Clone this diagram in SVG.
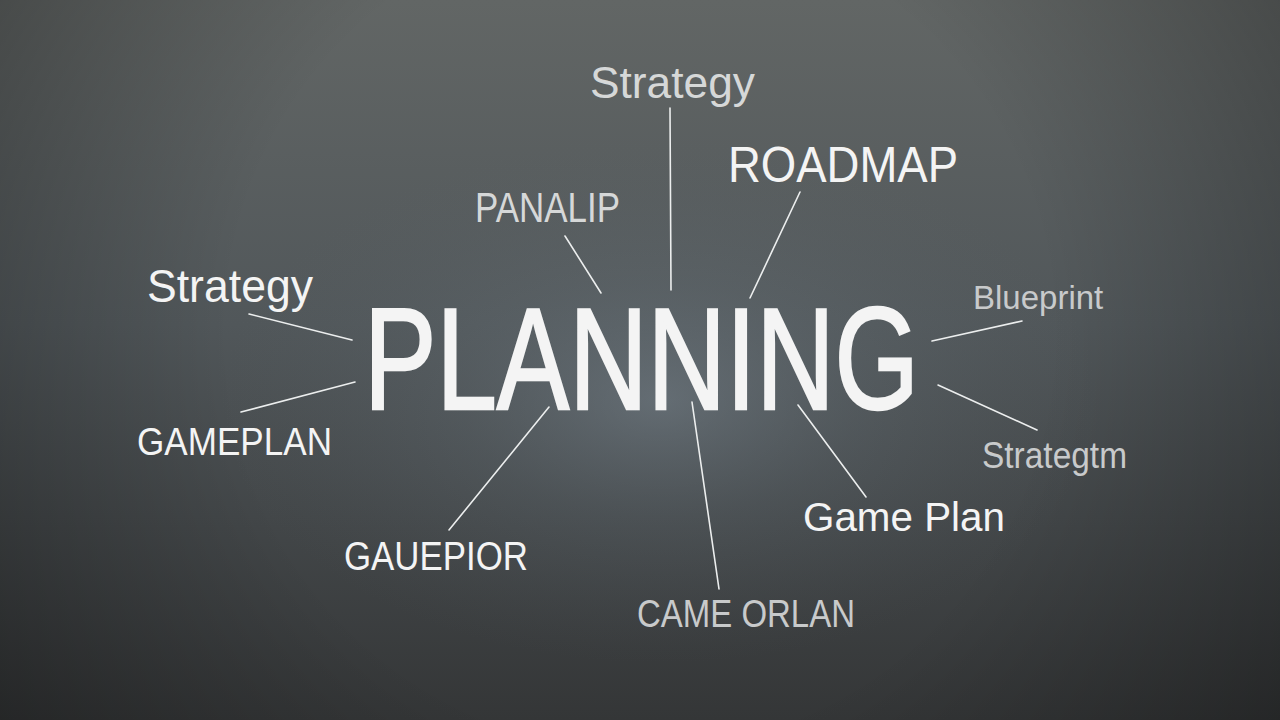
<svg xmlns="http://www.w3.org/2000/svg" width="1280" height="720" viewBox="0 0 1280 720">
  <defs>
    <linearGradient id="bg" x1="0" y1="0" x2="0" y2="1">
      <stop offset="0" stop-color="#626665"/>
      <stop offset="0.45" stop-color="#51575a"/>
      <stop offset="1" stop-color="#343637"/>
    </linearGradient>
    <radialGradient id="glow" cx="660" cy="400" r="440" gradientUnits="userSpaceOnUse" gradientTransform="translate(660 400) scale(1 0.6) translate(-660 -400)">
      <stop offset="0" stop-color="#8694a0" stop-opacity="0.42"/>
      <stop offset="0.45" stop-color="#6f7b84" stop-opacity="0.2"/>
      <stop offset="1" stop-color="#5a6268" stop-opacity="0"/>
    </radialGradient>
    <radialGradient id="vig" cx="640" cy="330" r="820" gradientUnits="userSpaceOnUse">
      <stop offset="0.5" stop-color="#000" stop-opacity="0"/>
      <stop offset="1" stop-color="#000" stop-opacity="0.35"/>
    </radialGradient>
    <style>
      .t { font-family: "Liberation Sans", Arial, sans-serif; }
      .w { fill: #f4f4f4; }
      .g { fill: #d6d8d8; }
      .lg { fill: #c8cacb; }
      .c line { stroke: #eceeee; stroke-width: 1.6; stroke-linecap: round; }
    </style>
  </defs>
  <rect width="1280" height="720" fill="url(#bg)"/>
  <rect width="1280" height="720" fill="url(#glow)"/>
  <rect width="1280" height="720" fill="url(#vig)"/>

  <g id="connectors" class="c">
    <line x1="670" y1="108" x2="671" y2="290"/>
    <line x1="800" y1="192" x2="750" y2="298"/>
    <line x1="565" y1="236" x2="601" y2="293"/>
    <line x1="249" y1="314" x2="352" y2="340"/>
    <line x1="241" y1="412" x2="355" y2="382"/>
    <line x1="1022" y1="321" x2="932" y2="341"/>
    <line x1="938" y1="385" x2="1037" y2="430"/>
    <line x1="798" y1="405" x2="866" y2="497"/>
    <line x1="549" y1="407" x2="449" y2="530"/>
    <line x1="692" y1="402" x2="719" y2="589"/>
  </g>

  <g id="planning">
    <text class="t w" x="364" y="409" font-size="145" stroke="#f4f4f4" stroke-width="2.4" textLength="555" lengthAdjust="spacingAndGlyphs">PLANNING</text>
  </g>
  <g id="strategy-top">
    <text class="t g" x="590" y="98" font-size="44" textLength="165" lengthAdjust="spacingAndGlyphs">Strategy</text>
  </g>
  <g id="roadmap">
    <text class="t w" x="728" y="182" font-size="50" textLength="230" lengthAdjust="spacingAndGlyphs">ROADMAP</text>
  </g>
  <g id="panalip">
    <text class="t g" x="475" y="222" font-size="43" textLength="145" lengthAdjust="spacingAndGlyphs">PANALIP</text>
  </g>
  <g id="strategy-left">
    <text class="t w" x="147" y="302" font-size="47" textLength="166" lengthAdjust="spacingAndGlyphs">Strategy</text>
  </g>
  <g id="gameplan">
    <text class="t w" x="137" y="455" font-size="39" textLength="195" lengthAdjust="spacingAndGlyphs">GAMEPLAN</text>
  </g>
  <g id="blueprint">
    <text class="t lg" x="973" y="309" font-size="33">Blueprint</text>
  </g>
  <g id="strategtm">
    <text class="t lg" x="982" y="468" font-size="36" textLength="145" lengthAdjust="spacingAndGlyphs">Strategtm</text>
  </g>
  <g id="game-plan">
    <text class="t w" x="803" y="531" font-size="41" textLength="202" lengthAdjust="spacingAndGlyphs">Game Plan</text>
  </g>
  <g id="gauepior">
    <text class="t w" x="344" y="570" font-size="40" textLength="184" lengthAdjust="spacingAndGlyphs">GAUEPIOR</text>
  </g>
  <g id="came-orlan">
    <text class="t lg" x="637" y="627" font-size="38" textLength="218" lengthAdjust="spacingAndGlyphs">CAME ORLAN</text>
  </g>
</svg>
